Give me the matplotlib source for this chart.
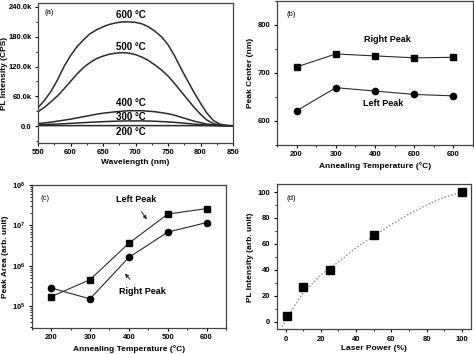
#import libs
import numpy as np
import matplotlib
matplotlib.use("Agg")
import matplotlib.pyplot as plt
from matplotlib.ticker import FuncFormatter, MultipleLocator, LogLocator, NullFormatter

plt.rcParams['font.family'] = ['Liberation Sans', 'DejaVu Sans']
plt.rcParams['font.weight'] = 'bold'
plt.rcParams['axes.labelweight'] = 'bold'
plt.rcParams['axes.linewidth'] = 0.9
plt.rcParams['axes.edgecolor'] = '#444444'
plt.rcParams['xtick.labelsize'] = 5.5
plt.rcParams['ytick.labelsize'] = 5.5
plt.rcParams['xtick.major.size'] = 2.5
plt.rcParams['ytick.major.size'] = 2.5
plt.rcParams['xtick.minor.size'] = 1.5
plt.rcParams['ytick.minor.size'] = 1.5
plt.rcParams['xtick.major.pad'] = 2
plt.rcParams['ytick.major.pad'] = 2

#(a) PL spectra, values in k counts, read every 10 nm
wavelength = [550, 560, 570, 580, 590, 600, 610, 620, 630, 640, 650,
              660, 670, 680, 690, 700, 710, 720, 730, 740, 750,
              760, 770, 780, 790, 800, 810, 820, 830, 840, 850]
pl_600 = [37, 52, 70, 93, 120, 142, 160, 174, 186, 194, 200,
          205, 208, 210, 210, 209, 206, 200, 191, 180, 164,
          142, 116, 92, 68, 46, 26, 11, 4, 1.5, 1]
pl_500 = [29, 38, 49, 61, 75, 90, 105, 118, 128, 136, 141,
          145, 147, 148, 147, 144, 139, 132, 123, 113, 101,
          86, 70, 54, 38, 24, 12, 5, 2, 1, 0.5]
pl_400 = [5, 6.5, 8, 10, 12, 14, 16.5, 19, 21.5, 24, 26,
          27.5, 29, 30, 31, 31, 31, 30, 29, 27, 25,
          22, 18, 14, 10, 7, 4, 2.5, 1.5, 1, 0.5]
pl_300 = [3, 3.3, 3.7, 4.2, 4.8, 5.5, 6.2, 7, 7.7, 8.3, 9,
          9.5, 10, 10.3, 10.5, 10.5, 10.5, 10.2, 9.8, 9.2, 8.5,
          7.6, 6.5, 5.3, 4.1, 3, 2, 1.3, 0.8, 0.6, 0.5]
pl_200 = [1, 1, 1, 1, 1, 1, 1, 1, 1, 1, 1,
          1, 1, 1, 1, 1, 1, 1, 1, 1, 1,
          1, 1, 1, 1, 0.9, 0.8, 0.7, 0.6, 0.5, 0.5]
spectra_labels = ["600 °C", "500 °C", "400 °C", "300 °C", "200 °C"]

#(b) peak centers
anneal_temp = [200, 300, 400, 500, 600]
anneal_ticklabels = ["200", "300", "400", "600", "600"]
right_center = [712, 739, 735, 731, 732]
left_center = [621, 669, 662, 655, 652]

#(c) peak areas
left_area = [1.7e5, 4.5e5, 3.6e6, 1.9e7, 2.6e7]
right_area = [2.8e5, 1.5e5, 1.6e6, 6.8e6, 1.17e7]

#(d) power dependence
laser_power = [1, 10, 25, 50, 100]
pl_power = [4.5, 26.5, 40, 66.5, 100]
fit_power = [-2, 0, 5, 10, 20, 25, 30, 40, 50, 60, 70, 80, 90, 100]
fit_pl = [-4, 0, 12, 22, 36, 41, 46, 57, 66, 75, 83, 90, 96, 100]

W, H = 474, 354
fig = plt.figure(figsize=(W / 100, H / 100), dpi=100)

def box(l, t, r, b):
    return [l / W, 1 - b / H, (r - l) / W, (b - t) / H]

ax_a = fig.add_axes(box(38, 3, 233, 143))
ax_b = fig.add_axes(box(277, 0.5, 473, 145))
ax_c = fig.add_axes(box(31.7, 185, 226, 327.7))
ax_d = fig.add_axes(box(276.7, 184.3, 470.7, 329.3))

line_col = '#2a2a2a'

#panel a
for vals in [pl_600, pl_500, pl_400, pl_300, pl_200]:
    ax_a.plot(wavelength, vals, color=line_col, lw=1.1)
ax_a.set_xlim(550, 850)
ax_a.set_ylim(-34, 248)
ax_a.set_xticks([550, 600, 650, 700, 750, 800, 850])
ax_a.xaxis.set_minor_locator(MultipleLocator(25))
ax_a.set_yticks([0, 60, 120, 180, 240])
ax_a.yaxis.set_minor_locator(MultipleLocator(30))
ax_a.yaxis.set_major_formatter(FuncFormatter(lambda v, p: "0.0" if v == 0 else "%.1fk" % v))
ax_a.set_xlabel("Wavelength (nm)", fontsize=6, labelpad=2)
ax_a.set_ylabel("PL Intensity (CPS)", fontsize=6, labelpad=0.5)
label_pos = [0.914, 0.686, 0.286, 0.186, 0.079]
for txt, yy in zip(spectra_labels, label_pos):
    ax_a.text(0.475, yy, txt, transform=ax_a.transAxes, ha='center', va='center', fontsize=7)
ax_a.text(0.034, 0.93, "(a)", transform=ax_a.transAxes, ha='left', va='center', fontsize=5.5, fontweight='normal')

#panel b
ax_b.plot(anneal_temp, right_center, color=line_col, lw=0.8, marker='s', ms=4, mfc='black', mec='black')
ax_b.plot(anneal_temp, left_center, color=line_col, lw=0.8, marker='o', ms=4.5, mfc='black', mec='black')
ax_b.set_xlim(150, 650)
ax_b.set_ylim(550, 850)
ax_b.set_xticks(anneal_temp)
ax_b.set_xticklabels(anneal_ticklabels)
ax_b.xaxis.set_minor_locator(MultipleLocator(50))
ax_b.set_yticks([600, 700, 800])
ax_b.yaxis.set_minor_locator(MultipleLocator(50))
ax_b.set_xlabel("Annealing Temperature (°C)", fontsize=6, labelpad=3)
ax_b.set_ylabel("Peak Center (nm)", fontsize=6, labelpad=3)
ax_b.text(0.561, 0.727, "Right Peak", transform=ax_b.transAxes, ha='center', va='center', fontsize=6.5)
ax_b.text(0.54, 0.284, "Left Peak", transform=ax_b.transAxes, ha='center', va='center', fontsize=6.5)
ax_b.text(0.046, 0.90, "(b)", transform=ax_b.transAxes, ha='left', va='center', fontsize=5.5, fontweight='normal')

#panel c
ax_c.plot(anneal_temp, left_area, color=line_col, lw=0.8, marker='s', ms=4, mfc='black', mec='black')
ax_c.plot(anneal_temp, right_area, color=line_col, lw=0.8, marker='o', ms=4.5, mfc='black', mec='black')
ax_c.set_yscale('log')
ax_c.set_xlim(150, 650)
ax_c.set_ylim(2.9e4, 1e8)
ax_c.set_xticks(anneal_temp)
ax_c.xaxis.set_minor_locator(MultipleLocator(50))
ax_c.yaxis.set_major_locator(LogLocator(base=10))
ax_c.yaxis.set_minor_locator(LogLocator(base=10, subs=np.arange(2, 10)))
ax_c.yaxis.set_minor_formatter(NullFormatter())
ax_c.set_xlabel("Annealing Temperature (°C)", fontsize=6, labelpad=3)
ax_c.set_ylabel("Peak Area (arb. unit)", fontsize=6, labelpad=2)
ax_c.text(0.538, 0.895, "Left Peak", transform=ax_c.transAxes, ha='center', va='center', fontsize=6.5)
ax_c.text(0.569, 0.257, "Right Peak", transform=ax_c.transAxes, ha='center', va='center', fontsize=6.5)
ax_c.annotate("", xy=(0.600, 0.743), xytext=(0.557, 0.830), xycoords='axes fraction',
              arrowprops=dict(arrowstyle='-|>', color=line_col, lw=0.7, mutation_scale=5))
ax_c.annotate("", xy=(0.471, 0.394), xytext=(0.515, 0.324), xycoords='axes fraction',
              arrowprops=dict(arrowstyle='-|>', color=line_col, lw=0.7, mutation_scale=5))
ax_c.text(0.043, 0.907, "(c)", transform=ax_c.transAxes, ha='left', va='center', fontsize=5.5, fontweight='normal')

#panel d
ax_d.plot(fit_power, fit_pl, color='#888888', lw=1.0, ls=(0, (1, 1.5)))
ax_d.plot(laser_power, pl_power, ls='none', marker='s', ms=5.5, mfc='black', mec='black')
ax_d.set_xlim(-5, 105)
ax_d.set_ylim(-6, 106)
ax_d.set_xticks([0, 20, 40, 60, 80, 100])
ax_d.xaxis.set_minor_locator(MultipleLocator(10))
ax_d.set_yticks([0, 20, 40, 60, 80, 100])
ax_d.yaxis.set_minor_locator(MultipleLocator(10))
ax_d.set_xlabel("Laser Power (%)", fontsize=6, labelpad=2)
ax_d.set_ylabel("PL Intensity (arb. unit)", fontsize=6, labelpad=3)
ax_d.text(0.053, 0.903, "(d)", transform=ax_d.transAxes, ha='left', va='center', fontsize=5.5, fontweight='normal')

fig.savefig("out.png", dpi=100)
